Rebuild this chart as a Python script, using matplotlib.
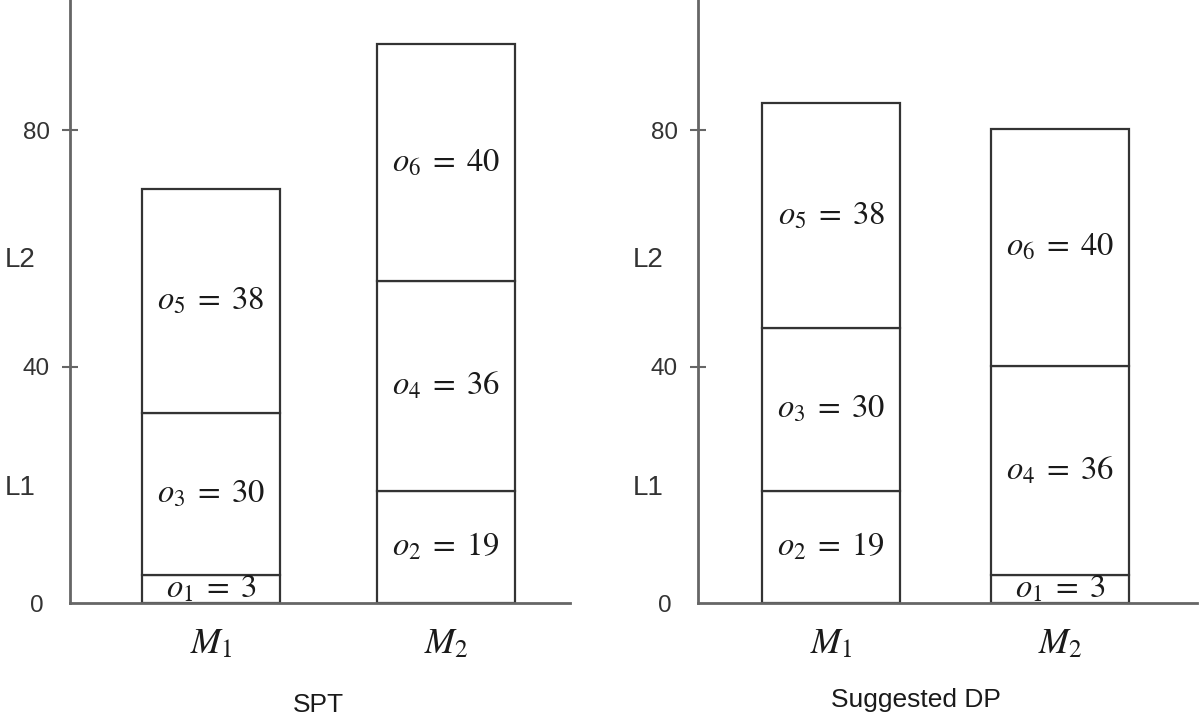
import numpy as np
import matplotlib
matplotlib.use('Agg')
import matplotlib.pyplot as plt

plt.rcParams.update({'font.family': 'Liberation Sans', 'mathtext.fontset': 'stix'})

machines = ['$M_1$', '$M_2$']

# operation index, duration label, and segment height as drawn (bottom to top)
spt_m1_ops = [1, 3, 5]
spt_m1_dur = [3, 30, 38]
spt_m1_h = [4.7, 27.5, 37.8]
spt_m2_ops = [2, 4, 6]
spt_m2_dur = [19, 36, 40]
spt_m2_h = [19.0, 35.5, 40.0]

dp_m1_ops = [2, 3, 5]
dp_m1_dur = [19, 30, 38]
dp_m1_h = [19.0, 27.5, 38.0]
dp_m2_ops = [1, 4, 6]
dp_m2_dur = [3, 36, 40]
dp_m2_h = [4.7, 35.4, 40.1]

ytick_vals = [0, 20, 40, 58.5, 80]
ytick_labels = ['0', 'L1', '40', 'L2', '80']

AX_COL = '#666666'
EDGE = '#333333'
TXT = '#1a1a1a'

fig = plt.figure(figsize=(12, 7.18), dpi=100)


def panel(rect, xlim, width, stacks, title, title_x, title_y):
    ax = fig.add_axes(rect)
    for i, (ops, durs, heights) in enumerate(stacks):
        x = i + 1
        bottom = 0
        for op, d, h in zip(ops, durs, heights):
            ax.bar(x, h, bottom=bottom, width=width, color='white',
                   edgecolor=EDGE, linewidth=1.6, zorder=2)
            ax.text(x, bottom + h / 2, rf'$o_{op}\;=\;{d}$', ha='center', va='center',
                    fontsize=23.5, color=TXT, zorder=3)
            bottom += h
    ax.set_xlim(*xlim)
    ax.set_ylim(0, 102)
    ax.set_xticks([1, 2])
    ax.set_xticklabels(machines, fontsize=26, color=TXT)
    ax.tick_params(axis='x', length=0, pad=17)
    ax.set_yticks(ytick_vals)
    ax.set_yticklabels(ytick_labels, color='#333333')
    ax.tick_params(axis='y', direction='inout', length=12, width=1.5, color=AX_COL)
    pads = {'0': 13, 'L1': 19, '40': 8.5, 'L2': 19, '80': 8.5}
    sizes = {'0': 17.5, 'L1': 20, '40': 17.5, 'L2': 20, '80': 17.5}
    for tick, lab in zip(ax.yaxis.get_major_ticks(), ytick_labels):
        if lab not in ('40', '80'):
            tick.tick1line.set_visible(False)
        tick.set_pad(pads[lab])
        tick.label1.set_fontsize(sizes[lab])
    for side in ['top', 'right']:
        ax.spines[side].set_visible(False)
    for side in ['left', 'bottom']:
        ax.spines[side].set_color(AX_COL)
        ax.spines[side].set_linewidth(2)
    ax.set_facecolor('none')
    fig.text(title_x, title_y, title, ha='center', va='center', fontsize=19, color=TXT)
    return ax


bottom = (718 - 603) / 718
height = 603 / 718
panel([70 / 1200, bottom, 500 / 1200, height], (0.40, 2.528), 0.587,
      [(spt_m1_ops, spt_m1_dur, spt_m1_h), (spt_m2_ops, spt_m2_dur, spt_m2_h)],
      'SPT', 318 / 1200, 1 - 705 / 718)
panel([698 / 1200, bottom, 499 / 1200, height], (0.419, 2.598), 0.603,
      [(dp_m1_ops, dp_m1_dur, dp_m1_h), (dp_m2_ops, dp_m2_dur, dp_m2_h)],
      'Suggested DP', 916 / 1200, 1 - 700 / 718)

plt.savefig('out.png', dpi=100)
